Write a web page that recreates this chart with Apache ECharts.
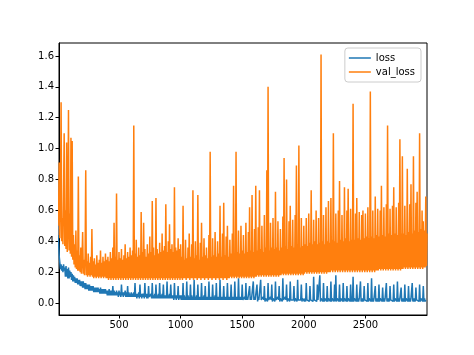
<!DOCTYPE html>
<html>
<head>
<meta charset="utf-8">
<script src="https://cdn.jsdelivr.net/npm/echarts@6/dist/echarts.min.js"></script>
<style>
html,body{margin:0;padding:0;background:#fff;}
#c{width:474px;height:355px;}
</style>
</head>
<body>
<div id="c"></div>
<script>
// epochs sampled every 5 (x positions), 40 values per row = 200 epochs per row
const EPOCH_START = 5, EPOCH_STEP = 5;

const lossValues = [
0.44,0.38,0.30,0.26,0.22,0.25,0.21,0.24,0.20,0.25,0.21,0.23,0.17,0.24,0.17,0.22,0.16,0.23,0.16,0.21,0.17,0.20,0.15,0.19,0.14,0.18,0.14,0.17,0.13,0.16,0.13,0.16,0.12,0.15,0.12,0.15,0.11,0.14,0.11,0.14,
0.10,0.14,0.10,0.13,0.09,0.13,0.09,0.12,0.09,0.12,0.08,0.12,0.08,0.11,0.08,0.11,0.08,0.11,0.07,0.10,0.07,0.10,0.07,0.10,0.07,0.10,0.07,0.09,0.06,0.10,0.06,0.09,0.06,0.09,0.06,0.09,0.06,0.09,0.06,0.08,
0.05,0.08,0.05,0.09,0.05,0.08,0.05,0.08,0.05,0.11,0.05,0.08,0.05,0.07,0.05,0.08,0.05,0.07,0.04,0.08,0.05,0.07,0.04,0.12,0.05,0.07,0.04,0.07,0.05,0.08,0.04,0.07,0.04,0.11,0.04,0.07,0.04,0.06,0.04,0.07,
0.04,0.06,0.04,0.07,0.04,0.13,0.04,0.06,0.03,0.06,0.04,0.07,0.03,0.12,0.04,0.06,0.03,0.06,0.04,0.06,0.03,0.13,0.04,0.06,0.03,0.06,0.03,0.11,0.04,0.05,0.03,0.06,0.03,0.13,0.03,0.05,0.03,0.06,0.03,0.12,
0.03,0.05,0.03,0.06,0.03,0.13,0.03,0.05,0.03,0.06,0.03,0.12,0.03,0.05,0.03,0.05,0.03,0.14,0.03,0.05,0.03,0.06,0.03,0.12,0.03,0.05,0.03,0.05,0.02,0.13,0.03,0.05,0.02,0.05,0.03,0.11,0.02,0.05,0.03,0.05,
0.02,0.05,0.02,0.13,0.02,0.05,0.02,0.04,0.02,0.14,0.02,0.05,0.02,0.04,0.02,0.12,0.02,0.05,0.02,0.04,0.02,0.15,0.02,0.04,0.02,0.05,0.02,0.12,0.02,0.04,0.02,0.04,0.02,0.13,0.02,0.04,0.02,0.05,0.02,0.11,
0.02,0.04,0.02,0.04,0.02,0.14,0.02,0.04,0.02,0.04,0.02,0.12,0.02,0.04,0.02,0.05,0.02,0.13,0.02,0.04,0.02,0.04,0.02,0.15,0.02,0.04,0.02,0.04,0.02,0.11,0.02,0.04,0.02,0.04,0.02,0.13,0.02,0.04,0.02,0.04,
0.02,0.12,0.02,0.04,0.02,0.04,0.02,0.14,0.02,0.04,0.02,0.04,0.02,0.16,0.02,0.04,0.02,0.04,0.02,0.12,0.02,0.03,0.02,0.04,0.02,0.13,0.02,0.04,0.02,0.03,0.02,0.11,0.02,0.04,0.02,0.03,0.02,0.14,0.02,0.04,
0.02,0.03,0.02,0.12,0.01,0.04,0.02,0.03,0.01,0.15,0.02,0.03,0.01,0.04,0.02,0.11,0.01,0.03,0.02,0.04,0.01,0.13,0.02,0.03,0.01,0.04,0.02,0.12,0.01,0.03,0.02,0.04,0.01,0.14,0.02,0.03,0.01,0.04,0.02,0.11,
0.01,0.03,0.02,0.04,0.01,0.16,0.02,0.03,0.01,0.04,0.02,0.12,0.01,0.03,0.02,0.04,0.01,0.14,0.02,0.03,0.01,0.03,0.02,0.11,0.01,0.03,0.02,0.04,0.01,0.15,0.02,0.03,0.01,0.03,0.02,0.12,0.01,0.03,0.02,0.04,
0.01,0.03,0.01,0.13,0.02,0.03,0.01,0.03,0.01,0.11,0.02,0.03,0.01,0.03,0.01,0.17,0.02,0.03,0.01,0.03,0.01,0.12,0.02,0.03,0.01,0.18,0.01,0.03,0.02,0.03,0.01,0.13,0.01,0.03,0.02,0.03,0.01,0.11,0.01,0.03,
0.02,0.03,0.01,0.14,0.01,0.03,0.02,0.03,0.01,0.12,0.01,0.18,0.01,0.03,0.02,0.03,0.01,0.12,0.01,0.03,0.02,0.03,0.01,0.13,0.01,0.03,0.02,0.03,0.01,0.11,0.01,0.03,0.02,0.03,0.01,0.12,0.01,0.03,0.01,0.17,
0.01,0.03,0.02,0.03,0.01,0.12,0.01,0.03,0.01,0.03,0.02,0.14,0.01,0.03,0.01,0.03,0.01,0.11,0.02,0.03,0.01,0.03,0.01,0.13,0.01,0.03,0.02,0.03,0.01,0.16,0.01,0.03,0.01,0.03,0.02,0.11,0.01,0.03,0.01,0.03,
0.01,0.12,0.01,0.03,0.02,0.03,0.01,0.10,0.01,0.03,0.01,0.03,0.02,0.13,0.01,0.03,0.01,0.03,0.01,0.11,0.02,0.03,0.01,0.03,0.01,0.12,0.01,0.03,0.02,0.03,0.01,0.14,0.01,0.03,0.01,0.03,0.02,0.10,0.01,0.03,
0.01,0.03,0.01,0.12,0.01,0.03,0.02,0.03,0.01,0.11,0.01,0.03,0.01,0.03,0.02,0.13,0.01,0.03,0.01,0.03,0.01,0.10,0.02,0.03,0.01,0.03,0.01,0.12,0.01,0.03,0.02,0.03,0.01,0.11,0.01,0.03,0.01,0.02,0.01,0.01
];

const valLossValues = [
0.50,0.62,0.91,0.42,0.70,1.30,0.40,0.55,0.38,0.72,1.10,0.37,0.60,0.35,1.04,0.33,0.52,1.25,0.34,0.58,0.32,1.07,0.30,1.05,0.28,0.44,0.25,0.38,0.23,0.47,0.22,0.34,0.21,0.82,0.21,0.31,0.20,0.36,0.19,0.29,
0.46,0.19,0.28,0.18,0.31,0.86,0.18,0.27,0.17,0.32,0.18,0.26,0.17,0.30,0.18,0.48,0.17,0.27,0.16,0.29,0.17,0.25,0.16,0.31,0.17,0.26,0.16,0.28,0.17,0.34,0.16,0.26,0.17,0.30,0.16,0.27,0.17,0.32,0.16,0.28,
0.16,0.30,0.15,0.27,0.16,0.33,0.15,0.29,0.16,0.36,0.15,0.52,0.16,0.30,0.15,0.71,0.16,0.28,0.15,0.33,0.16,0.29,0.15,0.35,0.16,0.28,0.15,0.31,0.16,0.38,0.15,0.29,0.16,0.33,0.15,0.30,0.16,0.36,0.15,0.31,
0.16,0.34,0.15,1.15,0.16,0.32,0.15,0.41,0.16,0.30,0.15,0.36,0.16,0.31,0.15,0.59,0.16,0.33,0.15,0.52,0.16,0.35,0.15,0.30,0.16,0.38,0.15,0.32,0.16,0.43,0.15,0.33,0.16,0.66,0.15,0.36,0.16,0.31,0.15,0.68,
0.16,0.35,0.15,0.32,0.16,0.39,0.15,0.33,0.16,0.45,0.15,0.34,0.16,0.37,0.15,0.64,0.16,0.33,0.15,0.40,0.16,0.51,0.15,0.35,0.16,0.38,0.15,0.33,0.16,0.75,0.15,0.36,0.16,0.34,0.15,0.42,0.16,0.35,0.15,0.38,
0.16,0.30,0.15,0.63,0.16,0.28,0.16,0.41,0.15,0.29,0.16,0.36,0.16,0.45,0.15,0.30,0.16,0.38,0.16,0.73,0.15,0.29,0.16,0.40,0.16,0.31,0.15,0.70,0.16,0.28,0.16,0.39,0.15,0.52,0.16,0.30,0.16,0.42,0.15,0.31,
0.16,0.36,0.16,0.29,0.15,0.44,0.16,0.98,0.16,0.30,0.15,0.42,0.16,0.31,0.16,0.46,0.15,0.30,0.16,0.40,0.16,0.32,0.15,0.63,0.16,0.30,0.16,0.45,0.15,0.65,0.16,0.31,0.16,0.43,0.15,0.50,0.16,0.30,0.16,0.41,
0.17,0.32,0.16,0.45,0.17,0.76,0.16,0.31,0.17,0.98,0.16,0.33,0.17,0.47,0.16,0.32,0.17,0.50,0.16,0.34,0.17,0.44,0.16,0.32,0.17,0.52,0.16,0.33,0.17,0.46,0.16,0.62,0.17,0.34,0.16,0.70,0.17,0.33,0.16,0.48,
0.17,0.76,0.17,0.34,0.18,0.49,0.17,0.73,0.18,0.35,0.17,0.50,0.18,0.33,0.17,0.57,0.18,0.36,0.17,0.86,0.18,1.40,0.17,0.34,0.18,0.52,0.17,0.36,0.18,0.55,0.17,0.35,0.18,0.72,0.17,0.36,0.18,0.53,0.17,0.34,
0.18,0.48,0.18,0.36,0.19,0.56,0.18,0.94,0.19,0.37,0.18,0.80,0.19,0.35,0.18,0.53,0.19,0.63,0.18,0.37,0.19,0.54,0.18,0.36,0.19,0.57,0.18,0.89,0.19,0.38,0.18,1.02,0.19,0.36,0.18,0.55,0.19,0.37,0.18,0.50,
0.19,0.38,0.20,0.55,0.19,0.37,0.20,0.58,0.19,0.39,0.20,0.73,0.19,0.38,0.20,0.54,0.19,0.40,0.20,0.60,0.19,0.38,0.20,0.55,0.19,0.39,0.20,1.61,0.19,0.40,0.20,0.57,0.19,0.38,0.20,0.62,0.19,0.40,0.20,0.66,
0.20,0.39,0.20,0.68,0.21,0.41,0.20,1.10,0.21,0.40,0.20,0.58,0.21,0.39,0.20,0.60,0.21,0.79,0.20,0.41,0.21,0.57,0.20,0.40,0.21,0.75,0.20,0.42,0.21,0.60,0.20,0.74,0.21,0.40,0.20,0.61,0.21,0.41,0.20,1.29,
0.21,0.41,0.20,0.58,0.21,0.68,0.20,0.42,0.21,0.59,0.20,0.41,0.21,0.57,0.20,0.60,0.21,0.42,0.20,0.58,0.21,0.43,0.20,0.62,0.21,0.42,0.20,1.37,0.21,0.43,0.20,0.60,0.21,0.42,0.20,0.69,0.21,0.44,0.21,0.61,
0.21,0.43,0.22,0.60,0.21,0.76,0.22,0.44,0.21,0.62,0.22,0.43,0.21,0.64,0.22,1.15,0.21,0.45,0.22,0.61,0.21,0.44,0.22,0.63,0.21,0.75,0.22,0.45,0.21,0.62,0.22,0.44,0.21,0.65,0.22,1.06,0.21,0.45,0.22,0.95,
0.22,0.45,0.23,0.63,0.22,0.44,0.23,0.87,0.22,0.46,0.23,0.64,0.22,0.77,0.23,0.45,0.22,0.95,0.23,0.47,0.22,0.65,0.23,0.72,0.22,0.46,0.23,1.10,0.22,0.48,0.23,0.60,0.22,0.53,0.23,0.47,0.23,0.69,0.24,0.45
];

const xTicks = [500, 1000, 1500, 2000, 2500];
const yTicks = [0, 0.2, 0.4, 0.6, 0.8, 1.0, 1.2, 1.4, 1.6];
const seriesNames = ['loss', 'val_loss'];

const epochs = lossValues.map((_, i) => EPOCH_START + i * EPOCH_STEP);
const toPairs = vals => vals.map((v, i) => [epochs[i], v]);

const FONT = 'DejaVu Sans';
const chart = echarts.init(document.getElementById('c'), null, {renderer: 'canvas'});
chart.setOption({
  animation: false,
  backgroundColor: '#fff',
  grid: {left: 59, right: 47, top: 43, bottom: 40, show: true, borderColor: '#000', borderWidth: 1, backgroundColor: 'transparent'},
  legend: {
    data: seriesNames,
    orient: 'vertical',
    right: 53,
    top: 48,
    icon: 'rect',
    itemWidth: 22,
    itemHeight: 1.5,
    itemGap: 4,
    padding: [5, 6, 5, 4],
    borderColor: '#cccccc',
    borderWidth: 1,
    borderRadius: 3,
    backgroundColor: 'rgba(255,255,255,0.8)',
    textStyle: {fontFamily: FONT, fontSize: 10, color: '#000'}
  },
  xAxis: {
    type: 'value',
    min: 13,
    max: 3000,
    splitLine: {show: false},
    axisLine: {show: true, onZero: false, lineStyle: {color: '#000', width: 1}},
    axisTick: {show: true, length: 3.5, customValues: xTicks, lineStyle: {color: '#000'}},
    axisLabel: {customValues: xTicks, fontFamily: FONT, fontSize: 10, color: '#000', margin: 5,
      formatter: v => String(v)},
  },
  yAxis: {
    type: 'value',
    min: -0.0775,
    max: 1.684,
    splitLine: {show: false},
    axisLine: {show: true, onZero: false, lineStyle: {color: '#000', width: 1}},
    axisTick: {show: true, length: 3.5, customValues: yTicks, lineStyle: {color: '#000'}},
    axisLabel: {customValues: yTicks, fontFamily: FONT, fontSize: 10, color: '#000', margin: 5,
      formatter: v => v.toFixed(1)},
  },
  series: [
    {name: seriesNames[0], type: 'line', data: toPairs(lossValues), showSymbol: false, symbol: 'none',
     color: '#1f77b4', lineStyle: {width: 1.5, color: '#1f77b4'}, z: 2},
    {name: seriesNames[1], type: 'line', data: toPairs(valLossValues), showSymbol: false, symbol: 'none',
     color: '#ff7f0e', lineStyle: {width: 1.5, color: '#ff7f0e'}, z: 3}
  ]
});
</script>
</body>
</html>
